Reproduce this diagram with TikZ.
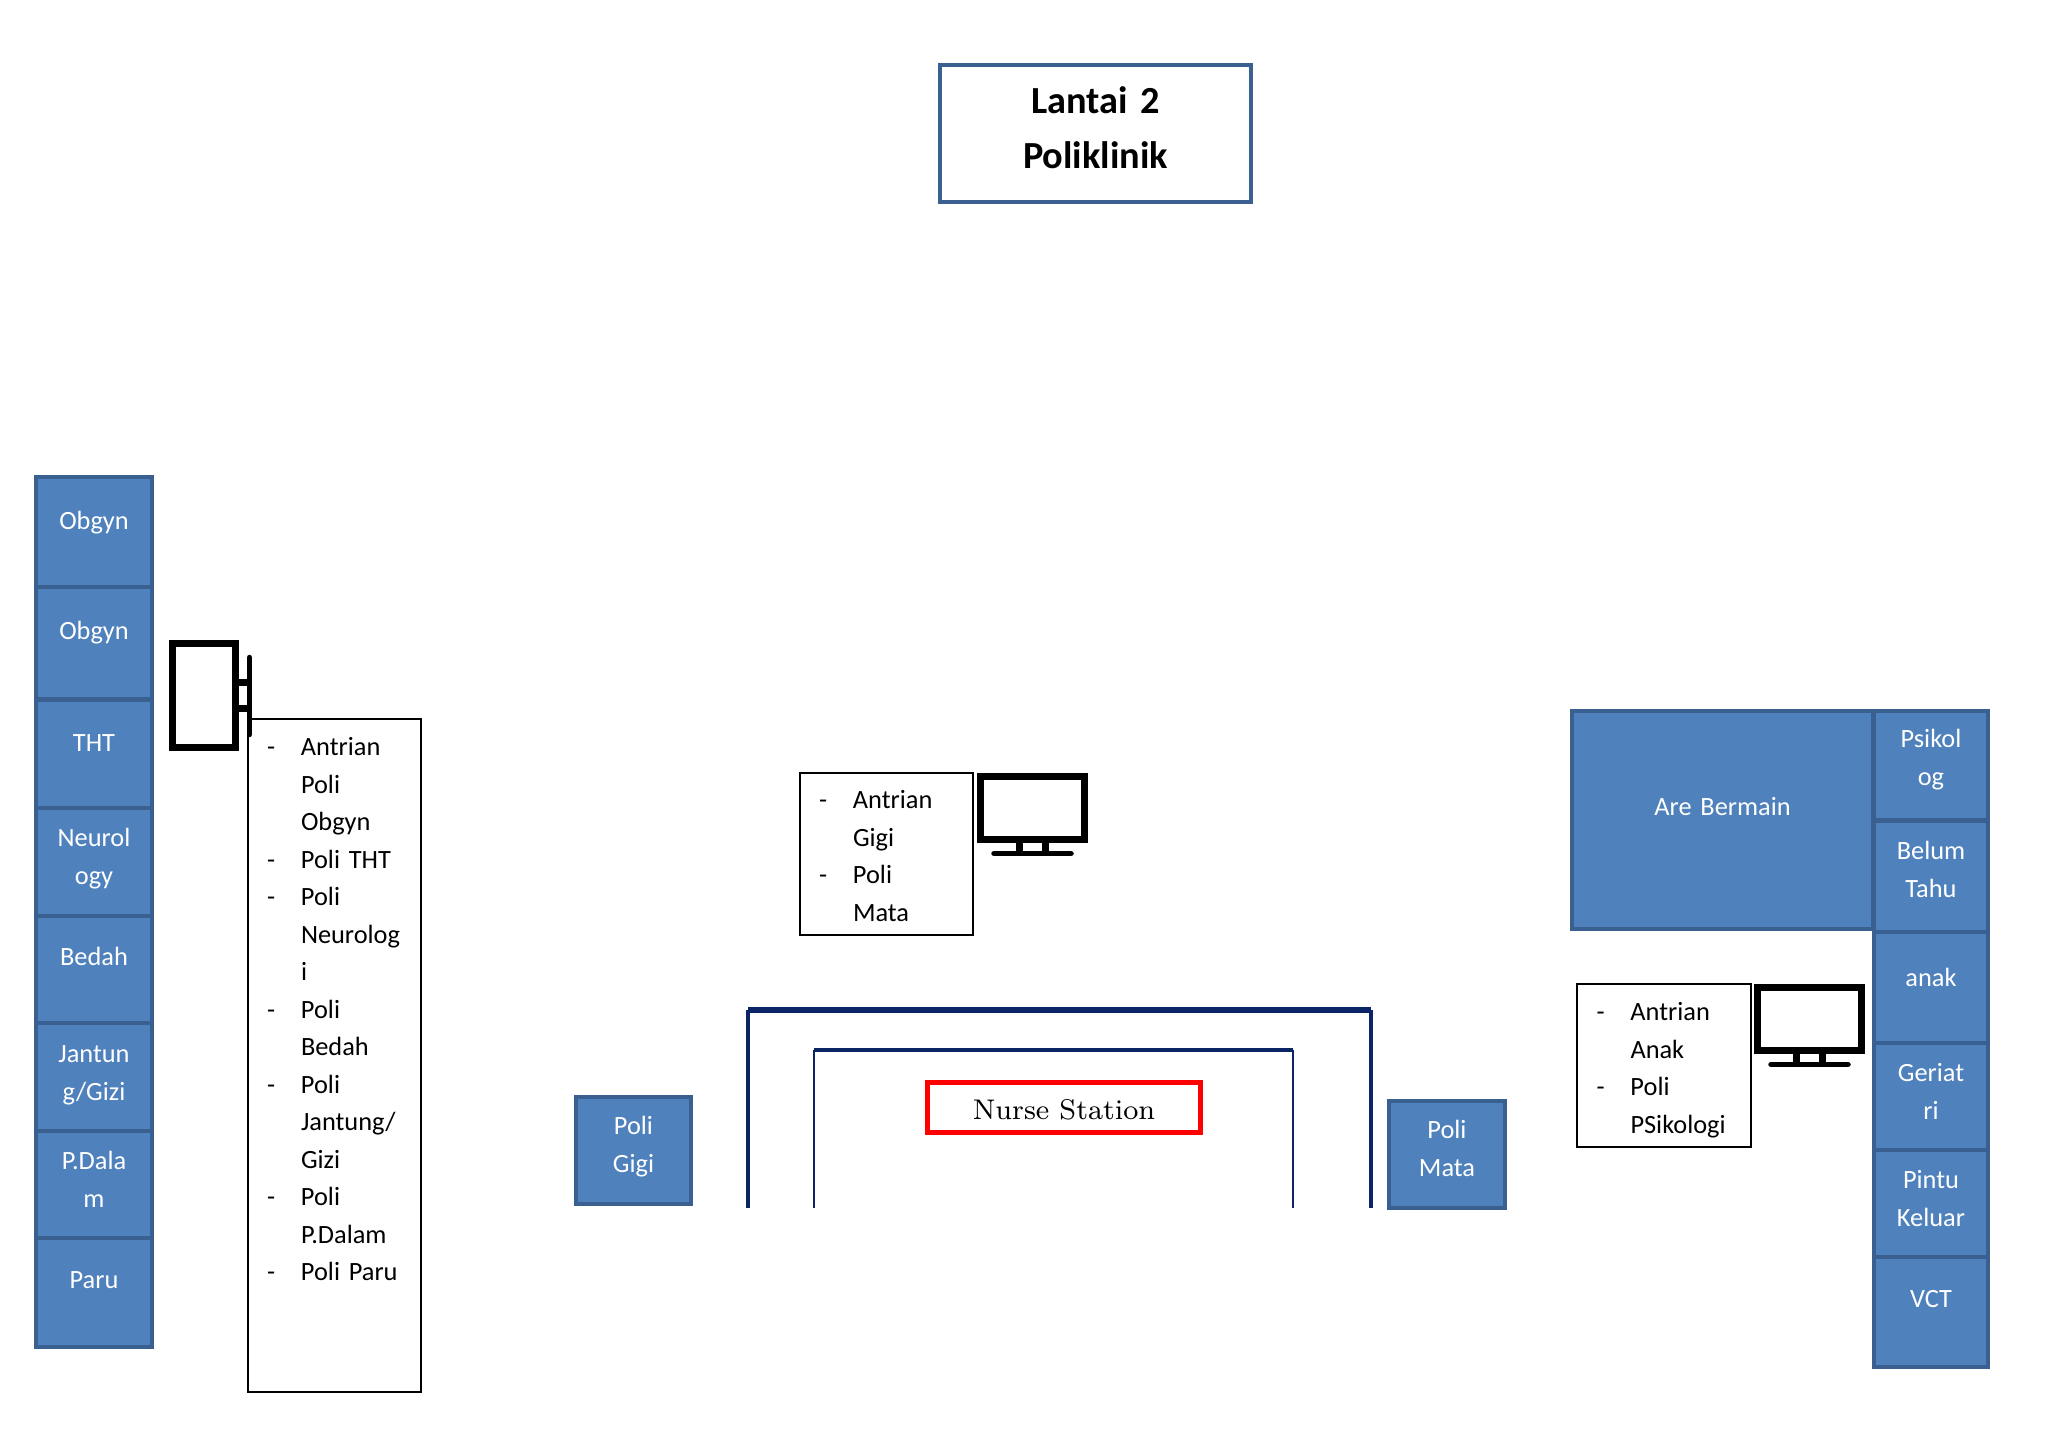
\documentclass[tikz,border=0pt]{standalone}
\usepackage{fontspec}
\newfontfamily\carlito{Carlito}
\definecolor{polifill}{HTML}{4F81BD}
\definecolor{polidraw}{HTML}{3A6091}
\definecolor{dinding}{HTML}{0B2465}
\newcommand{\strip}{\makebox[0.34cm][l]{-}}
\newcommand{\lanjut}{\hspace*{0.34cm}}
\tikzset{
	ruang/.style n args={3}{shape=rectangle, draw=polidraw, fill=polifill, line width=0.047cm,
		text=white, font=\carlito\fontsize{7.5}{10.75}\selectfont, align=center,
		inner sep=0pt, outer sep=0pt, anchor=north west,
		text width=#1, text height=#2, text depth=#3},
	daftar/.style n args={3}{shape=rectangle, draw=black, line width=0.013cm,
		font=\carlito\fontsize{7.5}{10.67}\selectfont, align=left,
		inner xsep=0.19cm, inner ysep=0pt, outer sep=0pt, anchor=north west,
		minimum width=#1, text width=1.35cm, text height=#2, text depth=#3},
	layar/.pic={
		\draw[line width=0.07cm] (-0.52, -0.315) rectangle (0.52, 0.315);
		\fill (-0.165, -0.315) rectangle (-0.095, -0.455);
		\fill (0.095, -0.315) rectangle (0.165, -0.455);
		\draw[line width=0.055cm, line cap=round] (-0.385, -0.455) -- (0.385, -0.455);
	}
}
\begin{document}
\begin{tikzpicture}
	\useasboundingbox (0, 0) rectangle (20.48, 14.47);
	% Title:
	\node[ruang={3.11cm}{0.49cm}{0.88cm}, fill=white, text=black,
	font=\carlito\bfseries\fontsize{10.9}{15.6}\selectfont] (judul) at (9.40, 13.82){Lantai 2\\Poliklinik};
	% Rooms, left side:
	\node[ruang={1.16cm}{0.53cm}{0.57cm}] (obgynA) at (0.36, 9.70){Obgyn};
	\node[ruang={1.16cm}{0.53cm}{0.59cm}] (obgynB) at (0.36, 8.60){Obgyn};
	\node[ruang={1.16cm}{0.52cm}{0.56cm}] (tht) at (0.36, 7.47){THT};
	\node[ruang={1.16cm}{0.39cm}{0.69cm}] (neurologi) at (0.36, 6.39){Neurol\\ogy};
	\node[ruang={1.16cm}{0.50cm}{0.57cm}] (bedah) at (0.36, 5.31){Bedah};
	\node[ruang={1.16cm}{0.40cm}{0.68cm}] (jantung) at (0.36, 4.24){Jantun\\g/Gizi};
	\node[ruang={1.16cm}{0.39cm}{0.68cm}] (pdalam) at (0.36, 3.16){P.Dala\\m};
	\node[ruang={1.16cm}{0.51cm}{0.58cm}] (paru) at (0.36, 2.09){Paru};
	% Rooms, right side:
	\node[ruang={3.01cm}{1.05cm}{1.13cm}] (bermain) at (15.72, 7.36){Are Bermain};
	\node[ruang={1.14cm}{0.37cm}{0.72cm}] (psikolog) at (18.74, 7.36){Psikol\\og};
	\node[ruang={1.14cm}{0.39cm}{0.72cm}] (balita) at (18.74, 6.26){Belum\\Tahu};
	\node[ruang={1.14cm}{0.55cm}{0.56cm}] (anak) at (18.74, 5.15){anak};
	\node[ruang={1.14cm}{0.39cm}{0.68cm}] (geriatri) at (18.74, 4.04){Geriat\\ri};
	\node[ruang={1.14cm}{0.39cm}{0.68cm}] (keluar) at (18.74, 2.97){Pintu\\Keluar};
	\node[ruang={1.14cm}{0.51cm}{0.59cm}] (vct) at (18.74, 1.90){VCT};
	% Rooms, middle:
	\node[ruang={1.15cm}{0.38cm}{0.69cm}] (gigi) at (5.76, 3.50){Poli\\Gigi};
	\node[ruang={1.16cm}{0.38cm}{0.69cm}] (mata) at (13.89, 3.46){Poli\\Mata};
	% Nurse station and its walls:
	\coordinate (luarA) at (7.48, 2.39);
	\coordinate (luarB) at (7.48, 4.37);
	\coordinate (luarC) at (13.71, 4.37);
	\coordinate (luarD) at (13.71, 2.39);
	\coordinate (dalamA) at (8.14, 2.39);
	\coordinate (dalamB) at (8.14, 3.97);
	\coordinate (dalamC) at (12.93, 3.97);
	\coordinate (dalamD) at (12.93, 2.39);
	\draw[dinding, line width=0.04cm] (luarA) -- (luarB);
	\draw[dinding, line width=0.055cm] (luarB) -- (luarC);
	\draw[dinding, line width=0.04cm] (luarC) -- (luarD);
	\draw[dinding, line width=0.027cm] (dalamA) -- (dalamB);
	\draw[dinding, line width=0.035cm] (dalamB) -- (dalamC);
	\draw[dinding, line width=0.027cm] (dalamC) -- (dalamD);
	\node[shape=rectangle, draw=red, line width=0.05cm, inner sep=0pt, outer sep=0pt, anchor=north west,
	minimum width=2.73cm, text height=0.37cm, text depth=0.13cm,
	align=center, font=\fontsize{8.1}{10}\selectfont] (perawat) at (9.275, 3.645){Nurse Station};
	% Queue lists and screens:
	\node[daftar={1.73cm}{0.37cm}{6.36cm}] (antrianA) at (2.48, 7.28){\strip Antrian\\\lanjut Poli\\\lanjut Obgyn\\\strip Poli THT\\\strip Poli\\\lanjut Neurolog\\\lanjut i\\\strip Poli\\\lanjut Bedah\\\strip Poli\\\lanjut Jantung/\\\lanjut Gizi\\\strip Poli\\\lanjut P.Dalam\\\strip Poli Paru};
	\node[daftar={1.73cm}{0.36cm}{1.26cm}] (antrianB) at (8.00, 6.74){\strip Antrian\\\lanjut Gigi\\\strip Poli\\\lanjut Mata};
	\node[daftar={1.74cm}{0.37cm}{1.26cm}] (antrianC) at (15.77, 4.63){\strip Antrian\\\lanjut Anak\\\strip Poli\\\lanjut PSikologi};
	\pic[rotate=90] (layarA) at (2.04, 7.51) {layar};
	\pic (layarB) at (10.325, 6.39) {layar};
	\pic (layarC) at (18.095, 4.28) {layar};
\end{tikzpicture}
\end{document}
